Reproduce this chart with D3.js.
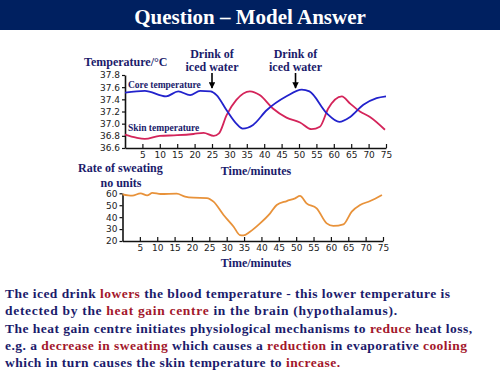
<!DOCTYPE html>
<html>
<head>
<meta charset="utf-8">
<script src="https://cdn.jsdelivr.net/npm/d3@7"></script>
<style>
  body { margin: 0; background: #fff; }
  svg { display: block; }
</style>
</head>
<body>
<svg id="chart" width="500" height="375"></svg>
<script>
// readings (time in minutes)
const coreTime = [0, 5.7, 11.8, 15.3, 18.7, 21.6, 24.6, 26.3, 29.2, 32, 33.8, 36.8, 40.7, 46.4, 50.8, 53, 58, 61.6, 64.7, 68.5, 72.3, 75];
const coreTemp = [37.51, 37.54, 37.45, 37.53, 37.47, 37.54, 37.53, 37.47, 37.22, 37.0, 36.92, 36.98, 37.22, 37.45, 37.56, 37.53, 37.17, 37.03, 37.11, 37.31, 37.42, 37.45];

const skinTime = [0, 3.2, 5.7, 10, 15, 19.7, 22.6, 25.5, 27, 29.2, 32, 35.9, 38.7, 42.5, 46.4, 50.3, 53.6, 56, 58.4, 62.3, 64.7, 67.5, 70.4, 74.7];
const skinTemp = [36.82, 36.77, 36.75, 36.8, 36.81, 36.83, 36.85, 36.8, 36.84, 37.14, 37.39, 37.53, 37.47, 37.25, 37.1, 37.02, 36.91, 36.95, 37.25, 37.45, 37.33, 37.2, 37.11, 36.9];

const sweatTime = [0, 2.8, 5.2, 7.1, 8.6, 11, 15.6, 18, 20.4, 24.3, 26.2, 29.1, 32, 33.8, 34.8, 36.7, 39.6, 42.5, 44.4, 47.3, 49.7, 51.1, 53, 55.9, 58.8, 60.7, 63.6, 66, 68.4, 71.3, 74.7];
const sweatRate = [59.2, 58.0, 60, 58.3, 60.3, 59.4, 59.7, 57.2, 56.3, 56, 53, 41.8, 32, 25, 24.7, 27.8, 34.8, 43.2, 50.2, 53.5, 55.8, 57.8, 51.6, 47.4, 34.8, 32.6, 34.0, 44.6, 50.2, 53.5, 58.6];

const timeTicks = d3.range(5, 80, 5);
const tempTicks = [36.6, 36.8, 37.0, 37.2, 37.4, 37.6, 37.8];
const sweatTicks = [20, 30, 40, 50, 60];
const drinkTimes = [25, 49];

const navy = '#1b1b6b';
const red = '#a3172c';

const svg = d3.select('#chart');

// title bar
svg.append('rect').attr('x', 0).attr('y', 0).attr('width', 500).attr('height', 30).attr('fill', '#002060');
svg.append('text')
  .attr('x', 250).attr('y', 24)
  .attr('text-anchor', 'middle')
  .attr('font-family', 'Liberation Serif, serif')
  .attr('font-weight', 700)
  .attr('font-size', 21)
  .attr('fill', '#fff')
  .text('Question \u2013 Model Answer');

const xTop = d3.scaleLinear().domain([0, 75]).range([125, 386]);
const yTop = d3.scaleLinear().domain([36.6, 37.8]).range([148, 75]);
const xBot = d3.scaleLinear().domain([0, 75]).range([122.5, 383]);
const yBot = d3.scaleLinear().domain([20, 60]).range([241, 193.3]);

function styleAxis(g) {
  g.select('.domain').attr('stroke', '#111').attr('stroke-width', 1.6);
  g.selectAll('.tick line').attr('stroke', '#111').attr('stroke-width', 1.2);
  g.selectAll('.tick text')
    .attr('font-family', 'DejaVu Sans, sans-serif')
    .attr('font-size', 9)
    .attr('fill', '#222');
}

function drawAxes(x, y, yTicks, fmt) {
  svg.append('g')
    .attr('transform', `translate(0, ${y.range()[0]})`)
    .call(d3.axisBottom(x).tickValues(timeTicks).tickSizeInner(-4).tickSizeOuter(0).tickPadding(4))
    .call(styleAxis);
  svg.append('g')
    .attr('transform', `translate(${x.range()[0]}, 0)`)
    .call(d3.axisLeft(y).tickValues(yTicks).tickFormat(fmt).tickSizeInner(3).tickSizeOuter(0).tickPadding(2))
    .call(styleAxis);
}

drawAxes(xTop, yTop, tempTicks, d3.format('.1f'));
drawAxes(xBot, yBot, sweatTicks, d3.format('d'));

function series(times, vals) {
  return times.map((t, i) => ({ t, v: vals[i] }));
}

const lineTop = d3.line().curve(d3.curveMonotoneX).x(d => xTop(d.t)).y(d => yTop(d.v));
const lineBot = d3.line().curve(d3.curveMonotoneX).x(d => xBot(d.t)).y(d => yBot(d.v));

svg.append('path').datum(series(skinTime, skinTemp))
  .attr('d', lineTop).attr('fill', 'none').attr('stroke', '#d4245a').attr('stroke-width', 1.8);
svg.append('path').datum(series(coreTime, coreTemp))
  .attr('d', lineTop).attr('fill', 'none').attr('stroke', '#2222cc').attr('stroke-width', 1.8);
svg.append('path').datum(series(sweatTime, sweatRate))
  .attr('d', lineBot).attr('fill', 'none').attr('stroke', '#e8923a').attr('stroke-width', 1.8);

// labels
function label(txt, x, y, size, anchor) {
  return svg.append('text')
    .attr('x', x).attr('y', y)
    .attr('text-anchor', anchor || 'start')
    .attr('font-family', 'Liberation Serif, serif')
    .attr('font-weight', 700)
    .attr('font-size', size)
    .attr('fill', navy)
    .text(txt);
}

label('Temperature/\u00B0C', 84, 66, 12);
label('Core temperature', 128, 88, 9.5);
label('Skin temperature', 128, 131, 9.5);
label('Rate of sweating', 78, 172, 12);
label('no units', 121, 187, 12, 'middle');
label('Time/minutes', 256, 175, 12, 'middle');
label('Time/minutes', 256, 267, 12, 'middle');

// drink annotations with arrows
svg.append('defs').append('marker')
  .attr('id', 'arrow')
  .attr('viewBox', '0 0 10 10')
  .attr('refX', 9).attr('refY', 5)
  .attr('markerWidth', 4).attr('markerHeight', 4)
  .attr('orient', 'auto')
  .append('path').attr('d', 'M0,0L10,5L0,10z').attr('fill', '#000');

drinkTimes.forEach(t => {
  const x = xTop(t);
  label('Drink of', x, 58, 12, 'middle');
  label('iced water', x, 71, 12, 'middle');
  svg.append('line')
    .attr('x1', x).attr('x2', x).attr('y1', 73).attr('y2', 88)
    .attr('stroke', '#000').attr('stroke-width', 1.6)
    .attr('marker-end', 'url(#arrow)');
});

// explanatory text
const lines = [
  { w: 445, segs: [['The iced drink ', 0], ['lowers', 1], [' the blood temperature - this lower temperature is', 0]] },
  { w: 392, segs: [['detected by the ', 0], ['heat gain centre', 1], [' in the brain (hypothalamus).', 0]] },
  { w: 467, segs: [['The heat gain centre initiates physiological mechanisms to ', 0], ['reduce', 1], [' heat loss,', 0]] },
  { w: 462, segs: [['e.g. a ', 0], ['decrease in sweating', 1], [' which causes a ', 0], ['reduction', 1], [' in evaporative ', 0], ['cooling', 1]] },
  { w: 335, segs: [['which in turn causes the skin temperature to ', 0], ['increase.', 1]] }
];

lines.forEach((ln, i) => {
  const t = svg.append('text')
    .attr('x', 5).attr('y', 298 + i * 17.3)
    .attr('font-family', 'Liberation Serif, serif')
    .attr('font-weight', 700)
    .attr('font-size', 13.5)
    .attr('textLength', ln.w)
    .attr('lengthAdjust', 'spacing')
    .style('white-space', 'pre');
  ln.segs.forEach(s => {
    t.append('tspan').attr('fill', s[1] ? red : navy).text(s[0]);
  });
});
</script>
</body>
</html>
